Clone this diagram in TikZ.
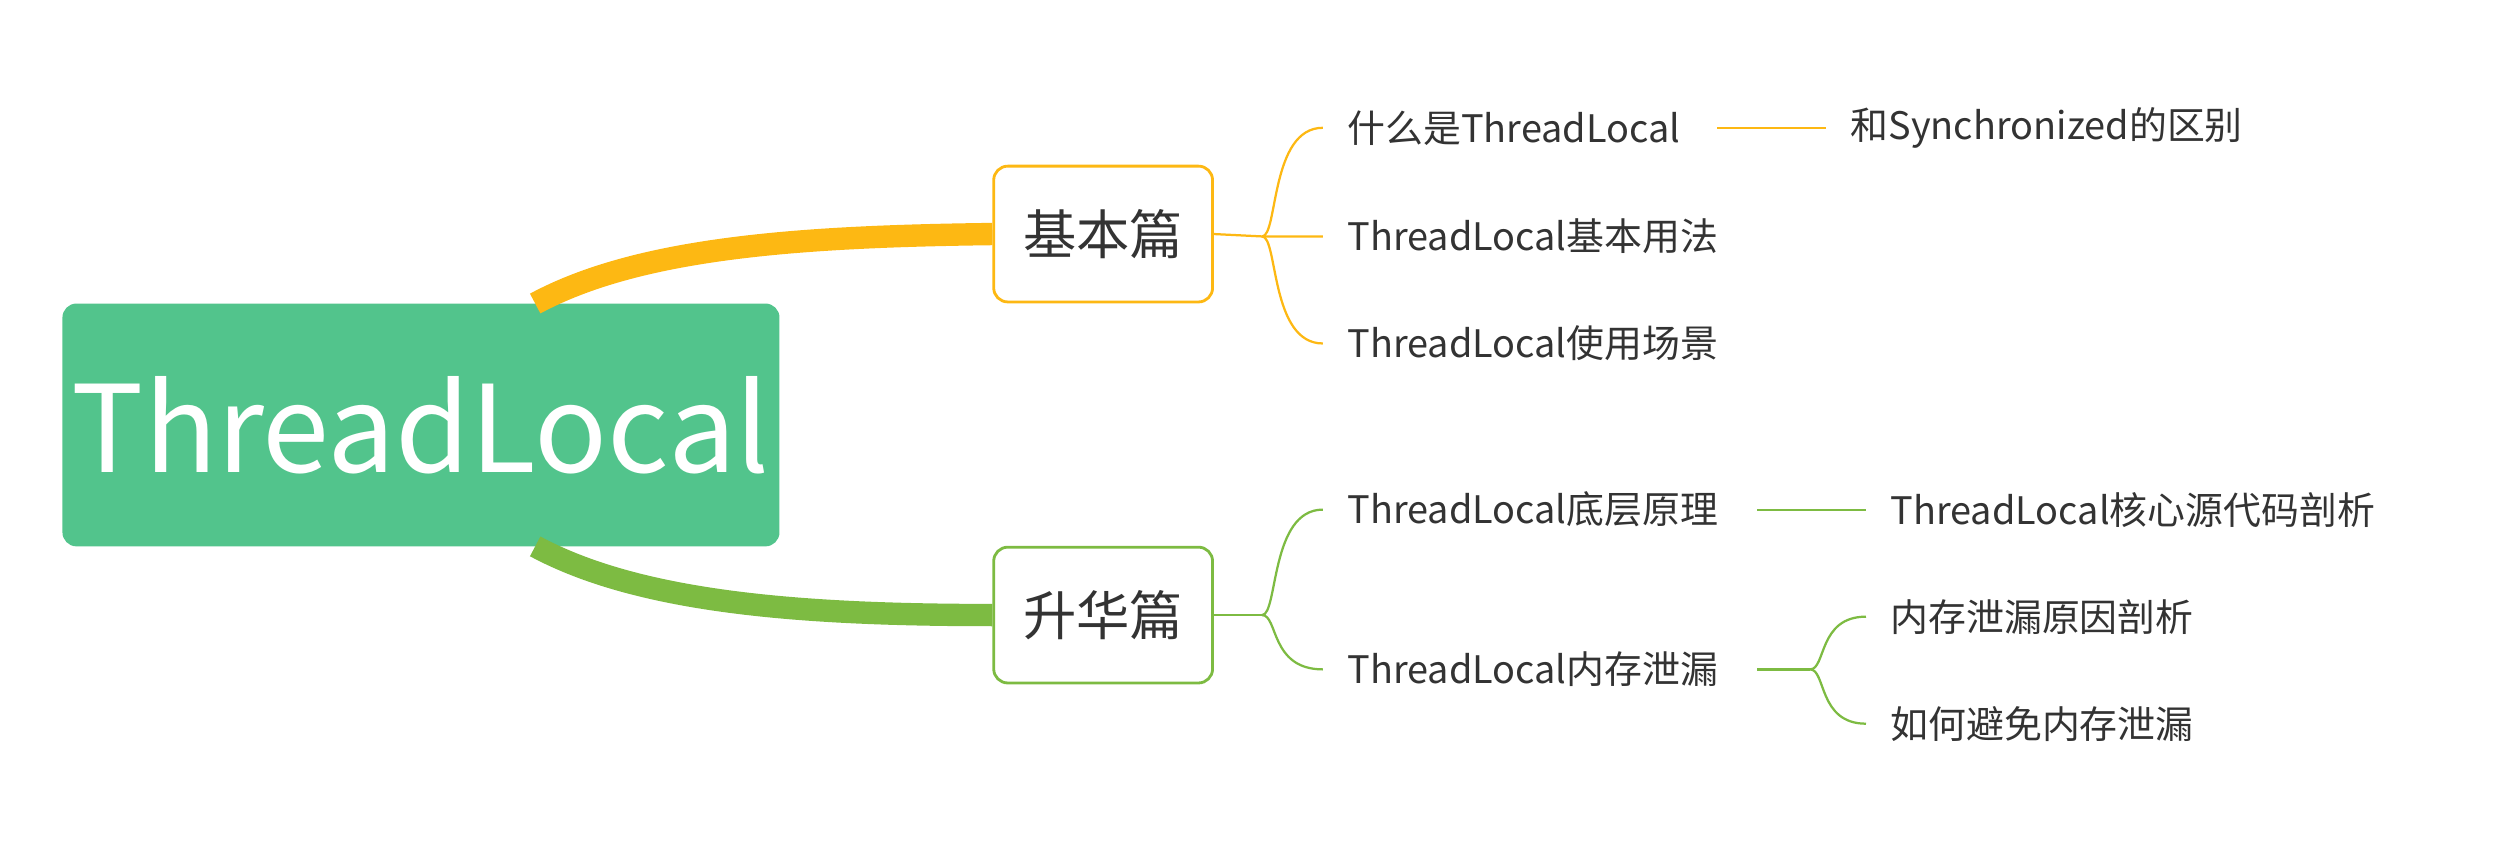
\documentclass[tikz,border=0pt]{standalone}
\usepackage{fontspec}
\setmainfont{Noto Sans CJK SC}
\begin{document}
\begin{tikzpicture}[x=0.02cm,y=-0.02cm,
  leaf/.style={anchor=west,inner sep=0pt,text=txt,font=\fontsize{13.5}{16}\selectfont},
  sub/.style={draw=#1,line width=1pt,fill=white,rounded corners=5pt,minimum width=137*0.02cm,minimum height=85*0.02cm,text=txt,font=\fontsize{19}{22}\selectfont},
  thin/.style={draw=#1,line width=0.8pt}]
\definecolor{yel}{HTML}{FDB813}
\definecolor{grn}{HTML}{7DBB42}
\definecolor{root}{HTML}{52C48C}
\definecolor{txt}{HTML}{333333}
\useasboundingbox (0,0) rectangle (1568,533);
\node[fill=root,rounded corners=5pt,minimum width=413*0.02cm,minimum height=152*0.02cm,text=white,font=\fontsize{43}{48}\selectfont] (r) at (263.5,266) {ThreadLocal};
\node[sub=yel] (a) at (690.5,146.5) {基本篇};
\node[sub=grn] (b) at (690.5,385) {升华篇};
\coordinate (rt) at (335,190);
\coordinate (rb) at (335,342);
\draw[yel,line width=14*0.02cm] (rt) .. controls (400,155) and (500,148) .. (a.west);
\draw[grn,line width=14*0.02cm] (rb) .. controls (400,377) and (500,385) .. (b.west);
\node[leaf] (a1) at (843,80) {什么是ThreadLocal};
\node[leaf] (a2) at (843,148) {ThreadLocal基本用法};
\node[leaf] (a3) at (843,215) {ThreadLocal使用场景};
\node[leaf] (a11) at (1158,80) {和Synchronized的区别};
\node[leaf] (b1) at (843,319) {ThreadLocal底层原理};
\node[leaf] (b2) at (843,419) {ThreadLocal内存泄漏};
\node[leaf] (b11) at (1183,319) {ThreadLocal核心源代码剖析};
\node[leaf] (b21) at (1183,386) {内存泄漏原因剖析};
\node[leaf] (b22) at (1183,453) {如何避免内存泄漏};
\coordinate (aj) at (790,148);
\coordinate (bj) at (790,385);
\coordinate (cj) at (1133,419);
\draw[thin=yel] (a.east) -- (aj) -- ++(38,0);
\draw[thin=yel] (aj) .. controls (800,148) and (795,80) .. (828,80);
\draw[thin=yel] (aj) .. controls (800,148) and (795,215) .. (828,215);
\draw[thin=yel] (1075,80) -- (1143,80);
\draw[thin=grn] (b.east) -- (bj);
\draw[thin=grn] (bj) .. controls (800,385) and (795,319) .. (828,319);
\draw[thin=grn] (bj) .. controls (800,385) and (795,419) .. (828,419);
\draw[thin=grn] (1100,319) -- (1168,319);
\draw[thin=grn] (1100,419) -- (cj);
\draw[thin=grn] (cj) .. controls (1143,419) and (1138,386) .. (1168,386);
\draw[thin=grn] (cj) .. controls (1143,419) and (1138,453) .. (1168,453);
\end{tikzpicture}
\end{document}
